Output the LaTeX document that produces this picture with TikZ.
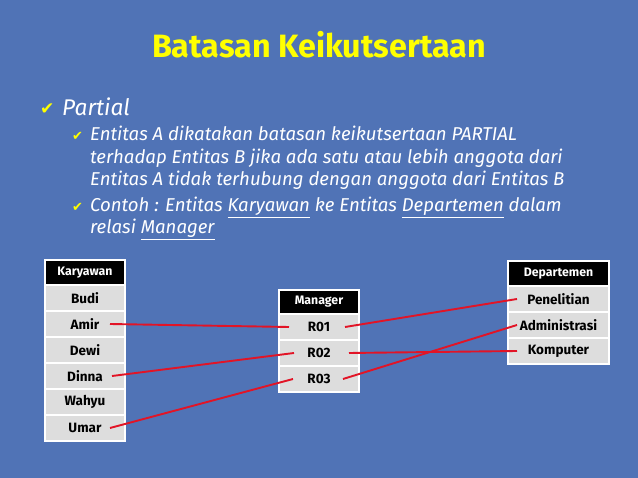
\documentclass[tikz,border=0pt]{standalone}
\usepackage{fontspec}
\setmainfont{Fira Sans}
\newfontfamily\checkfont{DejaVu Sans}
\usetikzlibrary{positioning}
\definecolor{slideblue}{RGB}{80,115,182}
\definecolor{titleyellow}{RGB}{255,255,0}
\definecolor{cellgray}{RGB}{221,221,221}
\definecolor{linkred}{RGB}{226,20,38}
\tikzset{
  tabhead/.style={fill=black, text=white, draw=white, line width=1.1pt, inner sep=0pt, outer sep=0pt,
    minimum height=25pt, font=\bfseries\fontsize{12.3}{14}\selectfont},
  tabcell/.style={fill=cellgray, text=black, draw=white, line width=1.1pt, inner sep=0pt, outer sep=0pt,
    minimum height=26pt, font=\bfseries\fontsize{13.5}{16}\selectfont},
  bodyline/.style={anchor=base west, text=white, inner sep=0pt, font=\itshape\fontsize{18.6}{22}\selectfont},
  tick/.style={anchor=base west, text=titleyellow, inner sep=0pt},
  link/.style={draw=linkred, line width=1.9pt}
}
\begin{document}
\begin{tikzpicture}[x=1pt,y=-1pt]
\fill[slideblue] (0,0) rectangle (638,478);
\useasboundingbox (0,0) rectangle (638,478);
% judul
\node[anchor=base, text=titleyellow, inner sep=0pt, font=\bfseries\fontsize{32.3}{38}\selectfont] (judul) at (319,58) {Batasan Keikutsertaan};
% poin utama
\node[tick, font=\checkfont\fontsize{17}{20}\selectfont] (cek1) at (40,115) {✔};
\node[bodyline, font=\itshape\fontsize{22.7}{27}\selectfont] (partial) at (62,116) {Partial};
% sub poin
\node[tick, font=\checkfont\fontsize{13}{15}\selectfont] (cek2) at (72,141) {✔};
\node[bodyline] (b1) at (90,141) {Entitas A dikatakan batasan keikutsertaan PARTIAL};
\node[bodyline] (b2) at (90,163.5) {terhadap Entitas B jika ada satu atau lebih anggota dari};
\node[bodyline] (b3) at (90,186) {Entitas A tidak terhubung dengan anggota dari Entitas B};
\node[tick, font=\checkfont\fontsize{13}{15}\selectfont] (cek3) at (72,212) {✔};
\node[bodyline] (b4) at (90,212) {Contoh : Entitas \underline{Karyawan} ke Entitas \underline{Departemen} dalam};
\node[bodyline] (b5) at (90,234) {relasi \underline{Manager}};
% tabel karyawan
\node[tabhead, minimum width=80pt] (kar) at (85,272.5) {Karyawan};
\node[tabcell, minimum width=80pt, below=0pt of kar] (budi) {Budi};
\node[tabcell, minimum width=80pt, below=0pt of budi] (amir) {Amir};
\node[tabcell, minimum width=80pt, below=0pt of amir] (dewi) {Dewi};
\node[tabcell, minimum width=80pt, below=0pt of dewi] (dinna) {Dinna};
\node[tabcell, minimum width=80pt, below=0pt of dinna] (wahyu) {Wahyu};
\node[tabcell, minimum width=80pt, below=0pt of wahyu] (umar) {Umar};
% tabel manager
\node[tabhead, minimum width=80pt, minimum height=24pt] (man) at (319,302) {Manager};
\node[tabcell, minimum width=80pt, below=0pt of man] (r01) {R01};
\node[tabcell, minimum width=80pt, below=0pt of r01] (r02) {R02};
\node[tabcell, minimum width=80pt, below=0pt of r02] (r03) {R03};
% tabel departemen
\node[tabhead, minimum width=101pt] (dep) at (558.5,273.5) {Departemen};
\node[tabcell, minimum width=101pt, below=0pt of dep] (pen) {Penelitian};
\node[tabcell, minimum width=101pt, below=0pt of pen] (adm) {Administrasi};
\node[tabcell, minimum width=101pt, below=0pt of adm] (kom) {Komputer};
% relasi
\draw[link] ([xshift=-15pt]amir.east) -- ([xshift=10pt]r01.west);
\draw[link] ([xshift=-13pt]dinna.east) -- ([xshift=15pt]r02.west);
\draw[link] ([xshift=-15pt]umar.east) -- ([xshift=14pt]r03.west);
\draw[link] ([xshift=-14pt]r01.east) -- ([xshift=9pt]pen.west);
\draw[link] ([xshift=-10pt]r02.east) -- ([xshift=9pt]kom.west);
\draw[link] ([xshift=-16pt]r03.east) -- ([xshift=9pt]adm.west);
\end{tikzpicture}
\end{document}
